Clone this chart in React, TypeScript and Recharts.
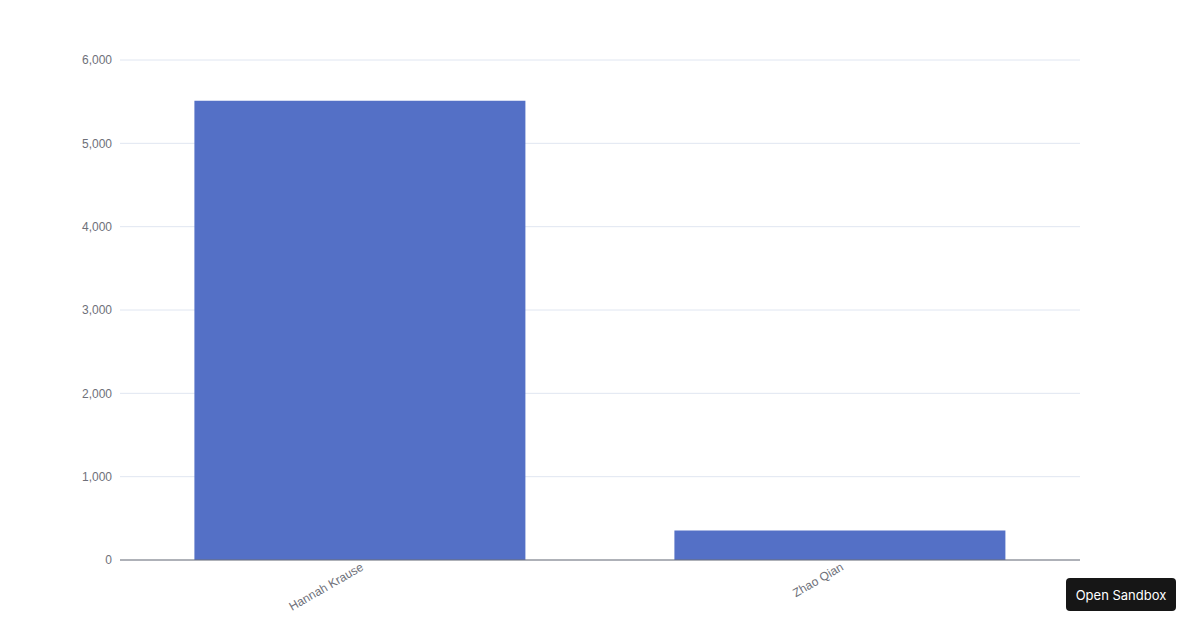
import { Bar, BarChart, CartesianGrid, XAxis, YAxis } from "recharts";

const names = ["Hannah Krause", "Zhao Qian"];
const totals = [5510, 355];
const valueTicks = [0, 1000, 2000, 3000, 4000, 5000, 6000];
const edgeTicks = [0, 1, 2];

const data = names.map((name, index) => ({ name, total: totals[index], edge: index + 0.5 }));

const axisText = { fill: "#6e7079", fontSize: 12, fontFamily: "'Liberation Sans', Arial, sans-serif" };

export default function App() {
  return (
    <div style={{ position: "absolute", left: 0, top: 0, width: 1200, height: 630, background: "#fff" }}>
      <BarChart width={1200} height={630} data={data} margin={{ top: 60, right: 120, bottom: 0, left: 40 }} barCategoryGap="15.5%">
        <CartesianGrid vertical={false} stroke="#e0e6f1" xAxisId="labels" />
        <YAxis
          type="number"
          domain={[0, 6000]}
          ticks={valueTicks}
          width={80}
          axisLine={false}
          tickLine={false}
          tickMargin={2}
          tick={axisText}
          tickFormatter={(value) => Number(value).toLocaleString("en-US")}
        />
        {/* boundary ticks + axis line, like a category axis with boundaryGap */}
        <XAxis
          type="number"
          dataKey="edge"
          domain={[0, 2]}
          ticks={edgeTicks}
          height={1}
          axisLine={{ stroke: "#6e7079" }}
          tickLine={{ stroke: "#6e7079" }}
          tickSize={5}
          tick={false}
        />
        <XAxis
          xAxisId="labels"
          dataKey="name"
          height={69}
          axisLine={false}
          tickLine={false}
          tickSize={0}
          tickMargin={1}
          interval={0}
          angle={-30}
          textAnchor="end"
          tick={axisText}
        />
        <Bar xAxisId="labels" dataKey="total" fill="#5470c6" isAnimationActive={false} />
      </BarChart>
      <div
        style={{
          position: "absolute",
          left: 1066,
          top: 578,
          width: 110,
          height: 33,
          borderRadius: 4,
          background: "#161616",
          color: "#fff",
          fontFamily: "Inter, 'Liberation Sans', sans-serif",
          fontSize: 13,
          display: "flex",
          alignItems: "center",
          justifyContent: "center",
        }}
      >
        Open Sandbox
      </div>
    </div>
  );
}
